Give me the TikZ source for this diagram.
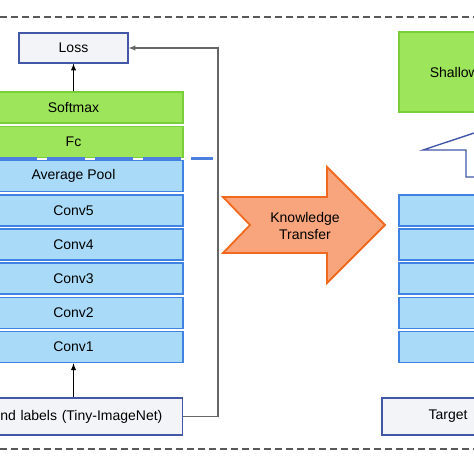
\documentclass[tikz,border=0pt]{standalone}
\usepackage{fontspec}
\setmainfont{Liberation Sans}
\definecolor{bluefill}{HTML}{A9DBF8}
\definecolor{blueline}{HTML}{3F82E2}
\definecolor{greenfill}{HTML}{9DE55A}
\definecolor{greenline}{HTML}{79CF3A}
\definecolor{boxline}{HTML}{4257A8}
\definecolor{boxfill}{HTML}{F3F4F7}
\definecolor{kfill}{HTML}{F8A57D}
\definecolor{kline}{HTML}{F0691E}
\definecolor{cutline}{HTML}{4C7FE0}
\begin{document}
\begin{tikzpicture}[x=1pt, y=-1pt, node distance=34.2pt, >=latex,
  every node/.style={font=\fontsize{14}{17}\selectfont},
  block/.style={draw=blueline, fill=bluefill, line width=1.6pt, minimum width=219pt, minimum height=31pt, inner sep=0pt},
  gblock/.style={block, draw=greenline, fill=greenfill},
  plainbox/.style={draw=boxline, fill=boxfill, line width=1.2pt, inner sep=0pt},
  sepline/.style={gray!70!black, line width=1.1pt, dash pattern=on 7pt off 4pt}]

  \useasboundingbox (0,0) rectangle (474,474);
  \clip (0,0) rectangle (474,474);

  % Separators
  \coordinate (T1) at (0,17);
  \coordinate (T2) at (474,17);
  \coordinate (B1) at (0,449);
  \coordinate (B2) at (474,449);
  \draw[sepline] (T1) -- (T2);
  \draw[sepline] (B1) -- (B2);

  % Left network
  \node[gblock] (soft) at (73.5,107.6) {Softmax};
  \node[gblock, below of=soft] (fc) {Fc};
  \node[block, below of=fc] (pool) {Average Pool};
  \node[block, below of=pool] (c5) {Conv5};
  \node[block, below of=c5] (c4) {Conv4};
  \node[block, below of=c4] (c3) {Conv3};
  \node[block, below of=c3] (c2) {Conv2};
  \node[block, below of=c2] (c1) {Conv1};

  \node[plainbox, minimum width=109pt, minimum height=30pt] (loss) at (73.5,48) {Loss};
  \node[plainbox, anchor=east, minimum height=37pt, text width=200pt, align=right, inner xsep=20pt] (input) at (183,416.5) {nd labels (Tiny-ImageNet)};

  % Cut line
  \coordinate (cutL) at (-1,158);
  \coordinate (cutR) at (213,158);
  \draw[cutline, line width=3pt, dash pattern=on 38pt off 10pt] (cutL) -- (cutR);

  % Arrows
  \draw[->, line width=1.3pt] (soft.north) -- (loss.south);
  \draw[->, line width=1.3pt] (c1.south |- input.north) -- (c1.south);
  \draw[->, line width=1.3pt, color=gray!80!black] (input.east) -- ++(35,0) |- (loss.east);

  % Knowledge transfer
  \filldraw[fill=kfill, draw=kline, line width=1.8pt, line join=miter]
    (223,197) -- (327,197) -- (327,167) -- (385,225) -- (327,283) -- (327,253) -- (223,253) -- (250,225) -- cycle;
  \node[align=center] (kt) at (305,225.5) {Knowledge\\Transfer};

  % Right network
  \node[gblock, anchor=west, minimum width=162pt, minimum height=80pt, text width=100pt, align=left, inner xsep=31pt] (shallow) at (398,72) {Shallow};
  \filldraw[fill=white, draw=boxline, line width=1.4pt]
    (520,117.7) -- (423,150) -- (466,150) -- (466,177) -- (520,177);
  \node[block, anchor=west] (s5) at (398,210.2) {};
  \node[block, below of=s5] (s4) {};
  \node[block, below of=s4] (s3) {};
  \node[block, below of=s3] (s2) {};
  \node[block, below of=s2] (s1) {};
  \node[plainbox, minimum width=132pt, minimum height=37pt] (target) at (448,416.5) {Target};

\end{tikzpicture}
\end{document}
